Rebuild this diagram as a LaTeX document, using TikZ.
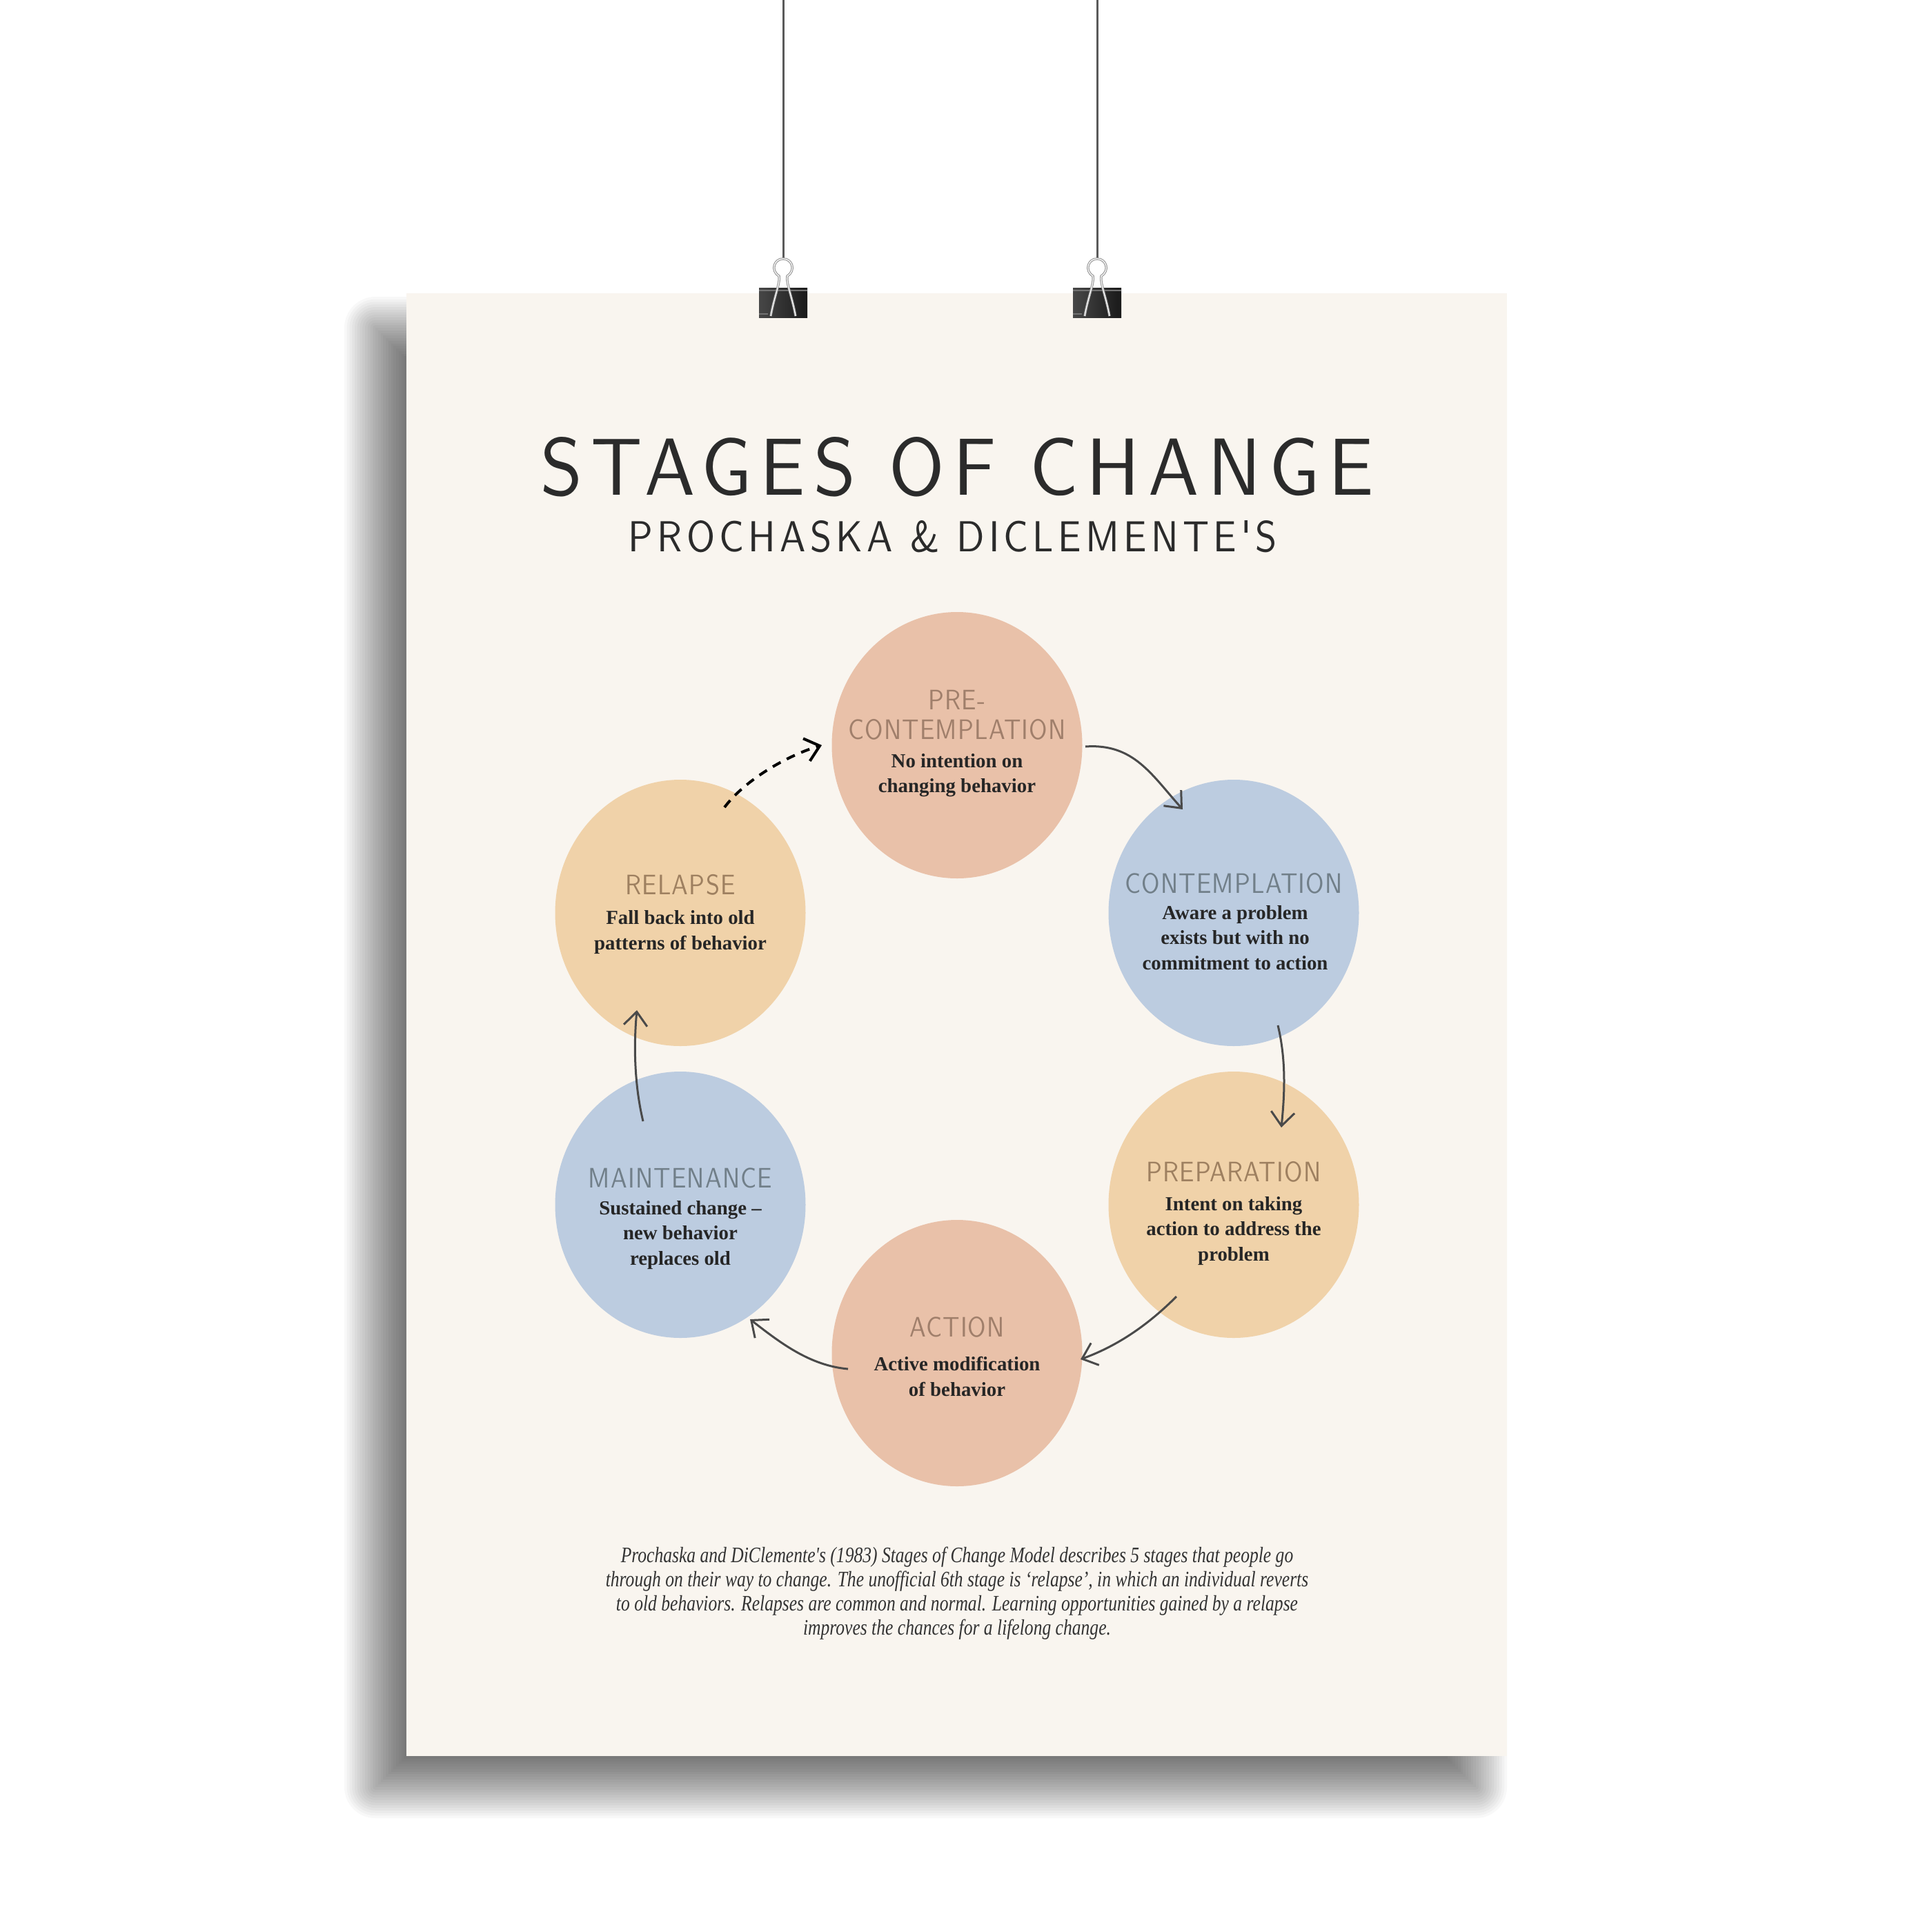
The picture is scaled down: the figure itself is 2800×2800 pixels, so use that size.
\documentclass[tikz,border=0pt]{standalone}
\usepackage{fontspec}
\setmainfont{Liberation Serif}
\newfontfamily\titlefont{Latin Modern Sans}[FakeStretch=0.72, LetterSpace=8]
\newfontfamily\stagefont{Latin Modern Sans}[FakeStretch=0.9, LetterSpace=3]
\newfontfamily\bodyfont{Liberation Serif}
\newfontfamily\footfont{Liberation Serif}[FakeStretch=0.8]
\usetikzlibrary{arrows.meta,shapes.geometric,calc}
\definecolor{paper}{HTML}{F9F5EF}
\definecolor{peach}{HTML}{E9C1A9}
\definecolor{bluec}{HTML}{BCCCE0}
\definecolor{sand}{HTML}{F0D2A9}
\definecolor{hpeach}{HTML}{A07F6B}
\definecolor{hblue}{HTML}{717F89}
\definecolor{hsand}{HTML}{9E8060}
\definecolor{arrowgray}{HTML}{4A4A4A}
\definecolor{inkdark}{HTML}{262626}
\definecolor{titleink}{HTML}{2B2B2B}
\definecolor{stringgray}{HTML}{5A5A5A}
\tikzset{
  stage/.style={ellipse, minimum width=36.3mm, minimum height=38.6mm, inner sep=0pt},
  heading/.style={font=\stagefont\fontsize{11.6}{12.2}\selectfont, align=center, inner sep=0pt},
  body/.style={font=\bodyfont\bfseries\fontsize{8.2}{10.3}\selectfont, text=inkdark, align=center, inner sep=0pt},
  arr/.style={draw=arrowgray, line width=0.3mm, -{Straight Barb[length=2mm,width=3.4mm]}},
  dasharr/.style={draw=black, line width=0.4mm, dash pattern=on 1.3mm off 1mm, -{Straight Barb[length=2mm,width=3.4mm]}},
}
\begin{document}
\begin{tikzpicture}[x=0.1mm,y=-0.1mm]
\useasboundingbox (0,0) rectangle (2800,2800);
\fill[white] (0,0) rectangle (2800,2800);
% shadow
\foreach \i in {0,...,24}{
  \pgfmathsetmacro\rr{45-3.75*\i}
  \pgfmathsetmacro\rc{max(\rr,0)}
  \fill[black, opacity=0.026, rounded corners=\rc*0.1mm] (544-\rr,475-\rr) rectangle (2139+\rr,2590+\rr);
}
% poster
\fill[paper] (589,425) rectangle (2184,2545);
% strings and clips
\foreach \cx in {1135,1590}{
  \draw[stringgray, line width=0.3mm] (\cx,0) -- (\cx,377);
  \shade[left color=black!72, right color=black!90] (\cx-35,417) rectangle (\cx+35,460);
  \draw[black!55, line width=0.2mm] (\cx-35,421) -- (\cx+35,421);
  \draw[black!55, line width=0.15mm] (\cx-35,455) -- (\cx-22,455);
  \draw[black!40, line width=0.35mm] (\cx-18,458) .. controls (\cx-13,430) and (\cx-4,410) .. (\cx-6,400) .. controls (\cx-19,392) and (\cx-13,375) .. (\cx,375) .. controls (\cx+13,375) and (\cx+19,392) .. (\cx+6,400) .. controls (\cx+4,410) and (\cx+13,430) .. (\cx+18,458);
  \draw[white, line width=0.12mm] (\cx-18,458) .. controls (\cx-13,430) and (\cx-4,410) .. (\cx-6,400) .. controls (\cx-19,392) and (\cx-13,375) .. (\cx,375) .. controls (\cx+13,375) and (\cx+19,392) .. (\cx+6,400) .. controls (\cx+4,410) and (\cx+13,430) .. (\cx+18,458);
}
% title
\node[text=titleink, inner sep=0pt] (title) at (1387,677) {\resizebox{120.7mm}{8.4mm}{\titlefont STAGES OF CHANGE}};
\node[text=titleink, inner sep=0pt] (subtitle) at (1381,778) {\resizebox{94mm}{4.5mm}{\titlefont PROCHASKA \& DICLEMENTE'S}};
% stages
\node[stage, fill=peach] (pre) at (1387,1080) {};
\node[stage, fill=bluec] (cont) at (1788,1323) {};
\node[stage, fill=sand] (prep) at (1788,1746) {};
\node[stage, fill=peach] (act) at (1387,1961) {};
\node[stage, fill=bluec] (maint) at (986,1746) {};
\node[stage, fill=sand] (rel) at (986,1323) {};
% headings
\node[heading, text=hpeach] (preh) at (1387,1036) {PRE-\\CONTEMPLATION};
\node[heading, text=hblue] (conth) at (1788,1280) {CONTEMPLATION};
\node[heading, text=hsand] (preph) at (1788,1698) {PREPARATION};
\node[heading, text=hpeach] (acth) at (1387,1923) {ACTION};
\node[heading, text=hblue] (mainth) at (986,1707) {MAINTENANCE};
\node[heading, text=hsand] (relh) at (986,1282) {RELAPSE};
% bodies
\node[body] (preb) at (1387,1124) {No intention on\\changing behavior};
\node[body] (contb) at (1790,1359) {Aware a problem\\exists but with no\\commitment to action};
\node[body] (prepb) at (1788,1784) {Intent on taking\\action to address the\\problem};
\node[body] (actb) at (1387,1995) {Active modification\\of behavior};
\node[body] (maintb) at (986,1790) {Sustained change –\\new behavior\\replaces old};
\node[body] (relb) at (986,1351) {Fall back into old\\patterns of behavior};
% connectors
\draw[arr] ($(pre)+(186,2)$) .. controls +(70,-5) and +(-45,-50) .. ($(cont)+(-74,-150)$);
\draw[arr] ($(cont)+(64,163)$) .. controls +(12,50) and +(5,-50) .. ($(prep)+(69,-112)$);
\draw[arr] ($(prep)+(-83,133)$) .. controls +(-40,40) and +(55,-20) .. ($(act)+(179,9)$);
\draw[arr] ($(act)+(-158,23)$) .. controls +(-55,-5) and +(45,35) .. ($(maint)+(101,166)$);
\draw[arr] ($(maint)+(-54,-121)$) .. controls +(-12,-50) and +(-5,55) .. ($(rel)+(-63,141)$);
\draw[dasharr] ($(rel)+(64,-153)$) .. controls +(30,-40) and +(-50,15) .. ($(pre)+(-196,0)$);
% footer
\node[font=\footfont\itshape\fontsize{9.1}{9.9}\selectfont, text=black!80, align=center, inner sep=0pt] (foot) at (1387,2309) {Prochaska and DiClemente's (1983) Stages of Change Model describes 5 stages that people go\\through on their way to change. The unofficial 6th stage is ‘relapse’, in which an individual reverts\\to old behaviors. Relapses are common and normal. Learning opportunities gained by a relapse\\improves the chances for a lifelong change.};
\end{tikzpicture}
\end{document}
